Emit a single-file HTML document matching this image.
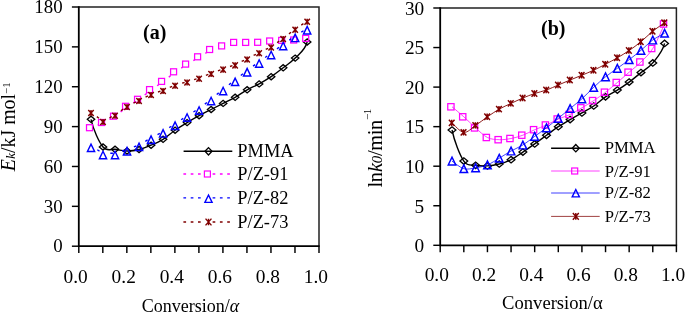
<!DOCTYPE html>
<html><head><meta charset="utf-8"><title>Figure</title>
<style>
html,body{margin:0;padding:0;background:#fff;}
svg{display:block;font-family:"Liberation Serif",serif;fill:#000;}
.t{font-size:18px;}
.b{font-size:20px;font-weight:bold;}
</style></head><body>
<svg width="685" height="314" viewBox="0 0 685 314">
<rect width="685" height="314" fill="#fff" stroke="none"/>
<g>
<path d="M78.8 7H319V246.2" fill="none" stroke="#222" stroke-width="1.5"/>
<path d="M78.8 6.3V246.2H319.7" fill="none" stroke="#000" stroke-width="1.8"/>
<path d="M71.9 246.2H78.8" stroke="#000" stroke-width="1.45"/>
<text x="62.6" y="252.4" text-anchor="end" style="font-size:18.9px">0</text>
<path d="M71.9 206.33H78.8" stroke="#000" stroke-width="1.45"/>
<text x="62.6" y="212.53" text-anchor="end" style="font-size:18.9px">30</text>
<path d="M71.9 166.47H78.8" stroke="#000" stroke-width="1.45"/>
<text x="62.6" y="172.67" text-anchor="end" style="font-size:18.9px">60</text>
<path d="M71.9 126.6H78.8" stroke="#000" stroke-width="1.45"/>
<text x="62.6" y="132.8" text-anchor="end" style="font-size:18.9px">90</text>
<path d="M71.9 86.73H78.8" stroke="#000" stroke-width="1.45"/>
<text x="62.6" y="92.93" text-anchor="end" style="font-size:18.9px">120</text>
<path d="M71.9 46.87H78.8" stroke="#000" stroke-width="1.45"/>
<text x="62.6" y="53.07" text-anchor="end" style="font-size:18.9px">150</text>
<path d="M71.9 7H78.8" stroke="#000" stroke-width="1.45"/>
<text x="62.6" y="13.2" text-anchor="end" style="font-size:18.9px">180</text>
<path d="M78.8 246.2V253.1" stroke="#000" stroke-width="1.45"/>
<text x="75.7" y="282.6" text-anchor="middle" style="font-size:19.4px">0.0</text>
<path d="M102.82 246.2V253.1" stroke="#000" stroke-width="1.45"/>
<path d="M126.84 246.2V253.1" stroke="#000" stroke-width="1.45"/>
<text x="123.74" y="282.6" text-anchor="middle" style="font-size:19.4px">0.2</text>
<path d="M150.86 246.2V253.1" stroke="#000" stroke-width="1.45"/>
<path d="M174.88 246.2V253.1" stroke="#000" stroke-width="1.45"/>
<text x="171.78" y="282.6" text-anchor="middle" style="font-size:19.4px">0.4</text>
<path d="M198.9 246.2V253.1" stroke="#000" stroke-width="1.45"/>
<path d="M222.92 246.2V253.1" stroke="#000" stroke-width="1.45"/>
<text x="219.82" y="282.6" text-anchor="middle" style="font-size:19.4px">0.6</text>
<path d="M246.94 246.2V253.1" stroke="#000" stroke-width="1.45"/>
<path d="M270.96 246.2V253.1" stroke="#000" stroke-width="1.45"/>
<text x="267.86" y="282.6" text-anchor="middle" style="font-size:19.4px">0.8</text>
<path d="M294.98 246.2V253.1" stroke="#000" stroke-width="1.45"/>
<path d="M319 246.2V253.1" stroke="#000" stroke-width="1.45"/>
<text x="315.9" y="282.6" text-anchor="middle" style="font-size:19.4px">1.0</text>
<path d="M91.01 119.3C93.34 129.75 99.02 142 103.02 147C107.02 152 111.03 148.63 115.03 149.3C119.03 149.97 123.04 150.97 127.04 151C131.04 151.03 135.05 150.47 139.05 149.5C143.05 148.53 147.06 146.9 151.06 145.2C155.06 143.5 159.07 141.8 163.07 139.3C167.07 136.8 171.08 132.98 175.08 130.2C179.08 127.42 183.09 125.02 187.09 122.6C191.09 120.18 195.1 117.88 199.1 115.7C203.1 113.52 207.11 111.55 211.11 109.5C215.11 107.45 219.12 105.43 223.12 103.4C227.12 101.37 231.13 99.57 235.13 97.3C239.13 95.03 243.14 92.03 247.14 89.8C251.14 87.57 255.15 86.08 259.15 83.9C263.15 81.72 267.16 79.38 271.16 76.7C275.16 74.02 279.17 70.9 283.17 67.8C287.17 64.7 291.18 62.4 295.18 58.1C299.18 53.8 304.86 50.52 307.19 42" fill="none" stroke="#000" stroke-width="1.4"/>
<path d="M87.31 119.3L91.01 116.2L94.71 119.3L91.01 122.4Z" fill="none" stroke="#000" stroke-width="1.3"/>
<path d="M99.32 147L103.02 143.9L106.72 147L103.02 150.1Z" fill="none" stroke="#000" stroke-width="1.3"/>
<path d="M111.33 149.3L115.03 146.2L118.73 149.3L115.03 152.4Z" fill="none" stroke="#000" stroke-width="1.3"/>
<path d="M123.34 151L127.04 147.9L130.74 151L127.04 154.1Z" fill="none" stroke="#000" stroke-width="1.3"/>
<path d="M135.35 149.5L139.05 146.4L142.75 149.5L139.05 152.6Z" fill="none" stroke="#000" stroke-width="1.3"/>
<path d="M147.36 145.2L151.06 142.1L154.76 145.2L151.06 148.3Z" fill="none" stroke="#000" stroke-width="1.3"/>
<path d="M159.37 139.3L163.07 136.2L166.77 139.3L163.07 142.4Z" fill="none" stroke="#000" stroke-width="1.3"/>
<path d="M171.38 130.2L175.08 127.1L178.78 130.2L175.08 133.3Z" fill="none" stroke="#000" stroke-width="1.3"/>
<path d="M183.39 122.6L187.09 119.5L190.79 122.6L187.09 125.7Z" fill="none" stroke="#000" stroke-width="1.3"/>
<path d="M195.4 115.7L199.1 112.6L202.8 115.7L199.1 118.8Z" fill="none" stroke="#000" stroke-width="1.3"/>
<path d="M207.41 109.5L211.11 106.4L214.81 109.5L211.11 112.6Z" fill="none" stroke="#000" stroke-width="1.3"/>
<path d="M219.42 103.4L223.12 100.3L226.82 103.4L223.12 106.5Z" fill="none" stroke="#000" stroke-width="1.3"/>
<path d="M231.43 97.3L235.13 94.2L238.83 97.3L235.13 100.4Z" fill="none" stroke="#000" stroke-width="1.3"/>
<path d="M243.44 89.8L247.14 86.7L250.84 89.8L247.14 92.9Z" fill="none" stroke="#000" stroke-width="1.3"/>
<path d="M255.45 83.9L259.15 80.8L262.85 83.9L259.15 87Z" fill="none" stroke="#000" stroke-width="1.3"/>
<path d="M267.46 76.7L271.16 73.6L274.86 76.7L271.16 79.8Z" fill="none" stroke="#000" stroke-width="1.3"/>
<path d="M279.47 67.8L283.17 64.7L286.87 67.8L283.17 70.9Z" fill="none" stroke="#000" stroke-width="1.3"/>
<path d="M291.48 58.1L295.18 55L298.88 58.1L295.18 61.2Z" fill="none" stroke="#000" stroke-width="1.3"/>
<path d="M303.49 42L307.19 38.9L310.89 42L307.19 45.1Z" fill="none" stroke="#000" stroke-width="1.3"/>
<path d="M97.71 125.1L98.25 124.87M109.48 119.41L110.43 118.92M120.66 111.86L122.67 110.2M133.35 102.92L134.56 102.22M144.73 95.01L146.75 93.38M157.09 85.78L158.78 84.63M168.77 77.14L170.8 75.52M181.23 68.16L182.71 67.21M193.33 60.61L194.66 59.8M205.34 53.31L206.67 52.5" fill="none" stroke="#ff00ff" stroke-width="1.4"/>
<rect x="86.51" y="124.7" width="6" height="6" fill="none" stroke="#ff00ff" stroke-width="1.25"/>
<rect x="98.52" y="119.5" width="6" height="6" fill="none" stroke="#ff00ff" stroke-width="1.25"/>
<rect x="110.53" y="113.2" width="6" height="6" fill="none" stroke="#ff00ff" stroke-width="1.25"/>
<rect x="122.54" y="103.3" width="6" height="6" fill="none" stroke="#ff00ff" stroke-width="1.25"/>
<rect x="134.55" y="96.3" width="6" height="6" fill="none" stroke="#ff00ff" stroke-width="1.25"/>
<rect x="146.56" y="86.6" width="6" height="6" fill="none" stroke="#ff00ff" stroke-width="1.25"/>
<rect x="158.57" y="78.4" width="6" height="6" fill="none" stroke="#ff00ff" stroke-width="1.25"/>
<rect x="170.58" y="68.8" width="6" height="6" fill="none" stroke="#ff00ff" stroke-width="1.25"/>
<rect x="182.59" y="61.1" width="6" height="6" fill="none" stroke="#ff00ff" stroke-width="1.25"/>
<rect x="194.6" y="53.8" width="6" height="6" fill="none" stroke="#ff00ff" stroke-width="1.25"/>
<rect x="206.61" y="46.5" width="6" height="6" fill="none" stroke="#ff00ff" stroke-width="1.25"/>
<rect x="218.62" y="42.9" width="6" height="6" fill="none" stroke="#ff00ff" stroke-width="1.25"/>
<rect x="230.63" y="39.4" width="6" height="6" fill="none" stroke="#ff00ff" stroke-width="1.25"/>
<rect x="242.64" y="39.4" width="6" height="6" fill="none" stroke="#ff00ff" stroke-width="1.25"/>
<rect x="254.65" y="39.3" width="6" height="6" fill="none" stroke="#ff00ff" stroke-width="1.25"/>
<rect x="266.66" y="38" width="6" height="6" fill="none" stroke="#ff00ff" stroke-width="1.25"/>
<rect x="278.67" y="37.4" width="6" height="6" fill="none" stroke="#ff00ff" stroke-width="1.25"/>
<rect x="290.68" y="37" width="6" height="6" fill="none" stroke="#ff00ff" stroke-width="1.25"/>
<rect x="302.69" y="35.4" width="6" height="6" fill="none" stroke="#ff00ff" stroke-width="1.25"/>
<path d="M97.27 149.75L99.5 151.09M110.32 153.2L112.92 153.2M121.99 151L124.47 150.21M133.89 146.89L136.34 145.99M145.33 141.29L147.57 139.96M157.52 134.51L159.83 133.3M169.22 127.66L171.4 126.26M181.11 119.78L183.26 118.32M193.4 112.02L195.64 110.71M204.83 104.17L206.86 102.56M216.72 94.53L218.72 92.87M228.92 84.76L230.98 83.18M240.83 75.44L242.86 73.82M253.05 66.12L255.16 64.59M265.11 57.48L267.23 55.98M277 48.82L279.08 47.26M289.22 40.12L291.38 38.66M301.33 32.16L303.51 30.76" fill="none" stroke="#0000ff" stroke-width="1.4"/>
<path d="M87.41 151.5L91.01 144.1L94.61 151.5Z" fill="none" stroke="#0000ff" stroke-width="1.45"/>
<path d="M99.42 158.7L103.02 151.3L106.62 158.7Z" fill="none" stroke="#0000ff" stroke-width="1.45"/>
<path d="M111.43 158.7L115.03 151.3L118.63 158.7Z" fill="none" stroke="#0000ff" stroke-width="1.45"/>
<path d="M123.44 154.9L127.04 147.5L130.64 154.9Z" fill="none" stroke="#0000ff" stroke-width="1.45"/>
<path d="M135.45 150.5L139.05 143.1L142.65 150.5Z" fill="none" stroke="#0000ff" stroke-width="1.45"/>
<path d="M147.46 143.4L151.06 136L154.66 143.4Z" fill="none" stroke="#0000ff" stroke-width="1.45"/>
<path d="M159.47 137.1L163.07 129.7L166.67 137.1Z" fill="none" stroke="#0000ff" stroke-width="1.45"/>
<path d="M171.48 129.4L175.08 122L178.68 129.4Z" fill="none" stroke="#0000ff" stroke-width="1.45"/>
<path d="M183.49 121.2L187.09 113.8L190.69 121.2Z" fill="none" stroke="#0000ff" stroke-width="1.45"/>
<path d="M195.5 114.2L199.1 106.8L202.7 114.2Z" fill="none" stroke="#0000ff" stroke-width="1.45"/>
<path d="M207.51 104.7L211.11 97.3L214.71 104.7Z" fill="none" stroke="#0000ff" stroke-width="1.45"/>
<path d="M219.52 94.7L223.12 87.3L226.72 94.7Z" fill="none" stroke="#0000ff" stroke-width="1.45"/>
<path d="M231.53 85.5L235.13 78.1L238.73 85.5Z" fill="none" stroke="#0000ff" stroke-width="1.45"/>
<path d="M243.54 75.9L247.14 68.5L250.74 75.9Z" fill="none" stroke="#0000ff" stroke-width="1.45"/>
<path d="M255.55 67.2L259.15 59.8L262.75 67.2Z" fill="none" stroke="#0000ff" stroke-width="1.45"/>
<path d="M267.56 58.7L271.16 51.3L274.76 58.7Z" fill="none" stroke="#0000ff" stroke-width="1.45"/>
<path d="M279.57 49.7L283.17 42.3L286.77 49.7Z" fill="none" stroke="#0000ff" stroke-width="1.45"/>
<path d="M291.58 41.6L295.18 34.2L298.78 41.6Z" fill="none" stroke="#0000ff" stroke-width="1.45"/>
<path d="M303.59 33.9L307.19 26.5L310.79 33.9Z" fill="none" stroke="#0000ff" stroke-width="1.45"/>
<path d="M96.85 116.68L98.93 118.24M109.48 117.91L111.79 116.7M120.94 110.72L123.05 109.19M133.57 103.04L135.9 101.88M145.58 97.04L147.91 95.88M157.99 91.99L160.45 91.17M169.77 87.4L172.15 86.37M182.12 83.17L184.63 82.48M194.05 79.6L196.53 78.81M205.9 75.34L208.32 74.39M217.96 70.79L220.41 69.89M230.01 66.49L232.47 65.63M241.68 61.48L244.02 60.33M253.63 55.45L255.94 54.26M265.72 49.43L268.06 48.29M277.12 42.58L279.24 41.08M288.97 33.86L291.03 32.28M301.26 25.05L303.42 23.61" fill="none" stroke="#800000" stroke-width="1.4"/>
<path d="M88.31 109.95L93.71 116.05M88.31 116.05L93.71 109.95M91.01 109.95L91.01 116.05" fill="none" stroke="#800000" stroke-width="1.45"/>
<path d="M100.32 118.95L105.72 125.05M100.32 125.05L105.72 118.95M103.02 118.95L103.02 125.05" fill="none" stroke="#800000" stroke-width="1.45"/>
<path d="M112.33 112.65L117.73 118.75M112.33 118.75L117.73 112.65M115.03 112.65L115.03 118.75" fill="none" stroke="#800000" stroke-width="1.45"/>
<path d="M124.34 103.95L129.74 110.05M124.34 110.05L129.74 103.95M127.04 103.95L127.04 110.05" fill="none" stroke="#800000" stroke-width="1.45"/>
<path d="M136.35 97.95L141.75 104.05M136.35 104.05L141.75 97.95M139.05 97.95L139.05 104.05" fill="none" stroke="#800000" stroke-width="1.45"/>
<path d="M148.36 91.95L153.76 98.05M148.36 98.05L153.76 91.95M151.06 91.95L151.06 98.05" fill="none" stroke="#800000" stroke-width="1.45"/>
<path d="M160.37 87.95L165.77 94.05M160.37 94.05L165.77 87.95M163.07 87.95L163.07 94.05" fill="none" stroke="#800000" stroke-width="1.45"/>
<path d="M172.38 82.75L177.78 88.85M172.38 88.85L177.78 82.75M175.08 82.75L175.08 88.85" fill="none" stroke="#800000" stroke-width="1.45"/>
<path d="M184.39 79.45L189.79 85.55M184.39 85.55L189.79 79.45M187.09 79.45L187.09 85.55" fill="none" stroke="#800000" stroke-width="1.45"/>
<path d="M196.4 75.65L201.8 81.75M196.4 81.75L201.8 75.65M199.1 75.65L199.1 81.75" fill="none" stroke="#800000" stroke-width="1.45"/>
<path d="M208.41 70.95L213.81 77.05M208.41 77.05L213.81 70.95M211.11 70.95L211.11 77.05" fill="none" stroke="#800000" stroke-width="1.45"/>
<path d="M220.42 66.55L225.82 72.65M220.42 72.65L225.82 66.55M223.12 66.55L223.12 72.65" fill="none" stroke="#800000" stroke-width="1.45"/>
<path d="M232.43 62.35L237.83 68.45M232.43 68.45L237.83 62.35M235.13 62.35L235.13 68.45" fill="none" stroke="#800000" stroke-width="1.45"/>
<path d="M244.44 56.45L249.84 62.55M244.44 62.55L249.84 56.45M247.14 56.45L247.14 62.55" fill="none" stroke="#800000" stroke-width="1.45"/>
<path d="M256.45 50.25L261.85 56.35M256.45 56.35L261.85 50.25M259.15 50.25L259.15 56.35" fill="none" stroke="#800000" stroke-width="1.45"/>
<path d="M268.46 44.45L273.86 50.55M268.46 50.55L273.86 44.45M271.16 44.45L271.16 50.55" fill="none" stroke="#800000" stroke-width="1.45"/>
<path d="M280.47 35.95L285.87 42.05M280.47 42.05L285.87 35.95M283.17 35.95L283.17 42.05" fill="none" stroke="#800000" stroke-width="1.45"/>
<path d="M292.48 26.75L297.88 32.85M292.48 32.85L297.88 26.75M295.18 26.75L295.18 32.85" fill="none" stroke="#800000" stroke-width="1.45"/>
<path d="M304.49 18.75L309.89 24.85M304.49 24.85L309.89 18.75M307.19 18.75L307.19 24.85" fill="none" stroke="#800000" stroke-width="1.45"/>
<path d="M183.6 151.3H232.3" stroke="#000" stroke-width="1.4"/>
<path d="M205 151.3L208.5 147.6L212 151.3L208.5 155Z" fill="none" stroke="#000" stroke-width="1.3"/>
<text x="237.3" y="156.7" style="font-size:18.4px">PMMA</text>
<path d="M183.4 174H186.1M190.7 174H193.4M198 174H200.7M212.6 174H215.3M219.9 174H222.6M227.2 174H229.9" stroke="#ff00ff" stroke-width="1.4"/>
<rect x="204.4" y="171" width="6" height="6" fill="none" stroke="#ff00ff" stroke-width="1.2"/>
<text x="237.3" y="180.4" style="font-size:18.4px">P/Z-91</text>
<path d="M183.4 197.9H186.1M190.7 197.9H193.4M198 197.9H200.7M212.6 197.9H215.3M219.9 197.9H222.6M227.2 197.9H229.9" stroke="#0000ff" stroke-width="1.4"/>
<path d="M204.9 202.4L208.5 195L212.1 202.4Z" fill="none" stroke="#0000ff" stroke-width="1.4"/>
<text x="237.3" y="204" style="font-size:18.4px">P/Z-82</text>
<path d="M183.4 222H186.1M190.7 222H193.4M198 222H200.7M212.6 222H215.3M219.9 222H222.6M227.2 222H229.9" stroke="#800000" stroke-width="1.4"/>
<path d="M205.53 218.65L211.47 225.35M205.53 225.35L211.47 218.65M208.5 218.65L208.5 225.35" fill="none" stroke="#800000" stroke-width="1.4"/>
<text x="237.3" y="228.3" style="font-size:18.4px">P/Z-73</text>
<text x="143.0" y="39.4" class="b">(a)</text>
<text transform="translate(15.1 171.2) rotate(-90)" style="font-size:19.9px"><tspan font-style="italic">E</tspan><tspan font-style="italic" font-size="13.5" dy="0.3">k</tspan><tspan dy="-0.3">/kJ mol</tspan><tspan font-size="10.8" dy="-5.6">−1</tspan></text>
<text x="141.8" y="312.3" class="t">Conversion/<tspan font-style="italic">α</tspan></text>
</g>
<g>
<path d="M440.2 8H676.4V245.3" fill="none" stroke="#222" stroke-width="1.5"/>
<path d="M440.2 7.3V245.3H677.1" fill="none" stroke="#000" stroke-width="1.8"/>
<path d="M433.3 245.3H440.2" stroke="#000" stroke-width="1.45"/>
<text x="424.2" y="252.1" text-anchor="end" style="font-size:19.3px">0</text>
<path d="M433.3 205.75H440.2" stroke="#000" stroke-width="1.45"/>
<text x="424.2" y="212.55" text-anchor="end" style="font-size:19.3px">5</text>
<path d="M433.3 166.2H440.2" stroke="#000" stroke-width="1.45"/>
<text x="424.2" y="173" text-anchor="end" style="font-size:19.3px">10</text>
<path d="M433.3 126.65H440.2" stroke="#000" stroke-width="1.45"/>
<text x="424.2" y="133.45" text-anchor="end" style="font-size:19.3px">15</text>
<path d="M433.3 87.1H440.2" stroke="#000" stroke-width="1.45"/>
<text x="424.2" y="93.9" text-anchor="end" style="font-size:19.3px">20</text>
<path d="M433.3 47.55H440.2" stroke="#000" stroke-width="1.45"/>
<text x="424.2" y="54.35" text-anchor="end" style="font-size:19.3px">25</text>
<path d="M433.3 8H440.2" stroke="#000" stroke-width="1.45"/>
<text x="424.2" y="14.8" text-anchor="end" style="font-size:19.3px">30</text>
<path d="M440.2 245.3V252.2" stroke="#000" stroke-width="1.45"/>
<text x="436.8" y="281.2" text-anchor="middle" style="font-size:19.4px">0.0</text>
<path d="M463.82 245.3V252.2" stroke="#000" stroke-width="1.45"/>
<path d="M487.44 245.3V252.2" stroke="#000" stroke-width="1.45"/>
<text x="484.04" y="281.2" text-anchor="middle" style="font-size:19.4px">0.2</text>
<path d="M511.06 245.3V252.2" stroke="#000" stroke-width="1.45"/>
<path d="M534.68 245.3V252.2" stroke="#000" stroke-width="1.45"/>
<text x="531.28" y="281.2" text-anchor="middle" style="font-size:19.4px">0.4</text>
<path d="M558.3 245.3V252.2" stroke="#000" stroke-width="1.45"/>
<path d="M581.92 245.3V252.2" stroke="#000" stroke-width="1.45"/>
<text x="578.52" y="281.2" text-anchor="middle" style="font-size:19.4px">0.6</text>
<path d="M605.54 245.3V252.2" stroke="#000" stroke-width="1.45"/>
<path d="M629.16 245.3V252.2" stroke="#000" stroke-width="1.45"/>
<text x="625.76" y="281.2" text-anchor="middle" style="font-size:19.4px">0.8</text>
<path d="M652.78 245.3V252.2" stroke="#000" stroke-width="1.45"/>
<path d="M676.4 245.3V252.2" stroke="#000" stroke-width="1.45"/>
<text x="673" y="281.2" text-anchor="middle" style="font-size:19.4px">1.0</text>
<path d="M452.01 130C454.31 141.02 459.88 155.22 463.82 161.1C467.76 166.98 471.69 164.5 475.63 165.3C479.57 166.1 483.5 166.12 487.44 165.9C491.38 165.68 495.31 165.03 499.25 164C503.19 162.97 507.12 161.68 511.06 159.7C515 157.72 518.93 154.73 522.87 152.1C526.81 149.47 530.74 146.7 534.68 143.9C538.62 141.1 542.55 138.17 546.49 135.3C550.43 132.43 554.36 129.32 558.3 126.7C562.24 124.08 566.17 121.9 570.11 119.6C574.05 117.3 577.98 115.17 581.92 112.9C585.86 110.63 589.79 108.68 593.73 106C597.67 103.32 601.6 99.45 605.54 96.8C609.48 94.15 613.41 92.55 617.35 90.1C621.29 87.65 625.22 85.02 629.16 82.1C633.1 79.18 637.03 75.8 640.97 72.6C644.91 69.4 648.84 67.77 652.78 62.9C656.72 58.03 662.29 52.48 664.59 43.4" fill="none" stroke="#000" stroke-width="1.4"/>
<path d="M448.12 130L452.01 126.75L455.89 130L452.01 133.25Z" fill="none" stroke="#000" stroke-width="1.3"/>
<path d="M459.94 161.1L463.82 157.84L467.7 161.1L463.82 164.35Z" fill="none" stroke="#000" stroke-width="1.3"/>
<path d="M471.75 165.3L475.63 162.05L479.51 165.3L475.63 168.56Z" fill="none" stroke="#000" stroke-width="1.3"/>
<path d="M483.56 165.9L487.44 162.65L491.32 165.9L487.44 169.16Z" fill="none" stroke="#000" stroke-width="1.3"/>
<path d="M495.37 164L499.25 160.75L503.13 164L499.25 167.25Z" fill="none" stroke="#000" stroke-width="1.3"/>
<path d="M507.17 159.7L511.06 156.44L514.94 159.7L511.06 162.95Z" fill="none" stroke="#000" stroke-width="1.3"/>
<path d="M518.99 152.1L522.87 148.84L526.75 152.1L522.87 155.35Z" fill="none" stroke="#000" stroke-width="1.3"/>
<path d="M530.79 143.9L534.68 140.65L538.56 143.9L534.68 147.16Z" fill="none" stroke="#000" stroke-width="1.3"/>
<path d="M542.61 135.3L546.49 132.05L550.38 135.3L546.49 138.56Z" fill="none" stroke="#000" stroke-width="1.3"/>
<path d="M554.41 126.7L558.3 123.45L562.18 126.7L558.3 129.96Z" fill="none" stroke="#000" stroke-width="1.3"/>
<path d="M566.23 119.6L570.11 116.34L574 119.6L570.11 122.85Z" fill="none" stroke="#000" stroke-width="1.3"/>
<path d="M578.03 112.9L581.92 109.65L585.8 112.9L581.92 116.16Z" fill="none" stroke="#000" stroke-width="1.3"/>
<path d="M589.85 106L593.73 102.75L597.62 106L593.73 109.25Z" fill="none" stroke="#000" stroke-width="1.3"/>
<path d="M601.65 96.8L605.54 93.55L609.42 96.8L605.54 100.05Z" fill="none" stroke="#000" stroke-width="1.3"/>
<path d="M613.46 90.1L617.35 86.84L621.23 90.1L617.35 93.35Z" fill="none" stroke="#000" stroke-width="1.3"/>
<path d="M625.27 82.1L629.16 78.84L633.04 82.1L629.16 85.35Z" fill="none" stroke="#000" stroke-width="1.3"/>
<path d="M637.09 72.6L640.97 69.34L644.86 72.6L640.97 75.85Z" fill="none" stroke="#000" stroke-width="1.3"/>
<path d="M648.89 62.9L652.78 59.64L656.66 62.9L652.78 66.16Z" fill="none" stroke="#000" stroke-width="1.3"/>
<path d="M660.7 43.4L664.59 40.14L668.47 43.4L664.59 46.66Z" fill="none" stroke="#000" stroke-width="1.3"/>
<path d="M452.01 106.8C453.98 108.47 459.88 113.28 463.82 116.8C467.76 120.32 471.69 124.45 475.63 127.9C479.57 131.35 483.5 135.53 487.44 137.5C491.38 139.47 495.31 139.53 499.25 139.7C503.19 139.87 507.12 139.25 511.06 138.5C515 137.75 518.93 136.67 522.87 135.2C526.81 133.73 530.74 131.4 534.68 129.7C538.62 128 542.55 126.78 546.49 125C550.43 123.22 554.36 120.75 558.3 119C562.24 117.25 566.17 116.37 570.11 114.5C574.05 112.63 577.98 110.12 581.92 107.8C585.86 105.48 589.79 103.2 593.73 100.6C597.67 98 601.6 95.22 605.54 92.2C609.48 89.18 613.41 85.83 617.35 82.5C621.29 79.17 625.22 75.62 629.16 72.2C633.1 68.78 637.03 65.95 640.97 62C644.91 58.05 648.84 54.83 652.78 48.5C656.72 42.17 662.62 28.08 664.59 24" fill="none" stroke="#ff00ff" stroke-width="0.75"/>
<rect x="447.76" y="103.65" width="6.3" height="6.3" fill="none" stroke="#ff00ff" stroke-width="1.25"/>
<rect x="459.57" y="113.65" width="6.3" height="6.3" fill="none" stroke="#ff00ff" stroke-width="1.25"/>
<rect x="471.38" y="124.75" width="6.3" height="6.3" fill="none" stroke="#ff00ff" stroke-width="1.25"/>
<rect x="483.19" y="134.35" width="6.3" height="6.3" fill="none" stroke="#ff00ff" stroke-width="1.25"/>
<rect x="495" y="136.55" width="6.3" height="6.3" fill="none" stroke="#ff00ff" stroke-width="1.25"/>
<rect x="506.81" y="135.35" width="6.3" height="6.3" fill="none" stroke="#ff00ff" stroke-width="1.25"/>
<rect x="518.62" y="132.05" width="6.3" height="6.3" fill="none" stroke="#ff00ff" stroke-width="1.25"/>
<rect x="530.43" y="126.55" width="6.3" height="6.3" fill="none" stroke="#ff00ff" stroke-width="1.25"/>
<rect x="542.24" y="121.85" width="6.3" height="6.3" fill="none" stroke="#ff00ff" stroke-width="1.25"/>
<rect x="554.05" y="115.85" width="6.3" height="6.3" fill="none" stroke="#ff00ff" stroke-width="1.25"/>
<rect x="565.86" y="111.35" width="6.3" height="6.3" fill="none" stroke="#ff00ff" stroke-width="1.25"/>
<rect x="577.67" y="104.65" width="6.3" height="6.3" fill="none" stroke="#ff00ff" stroke-width="1.25"/>
<rect x="589.48" y="97.45" width="6.3" height="6.3" fill="none" stroke="#ff00ff" stroke-width="1.25"/>
<rect x="601.29" y="89.05" width="6.3" height="6.3" fill="none" stroke="#ff00ff" stroke-width="1.25"/>
<rect x="613.1" y="79.35" width="6.3" height="6.3" fill="none" stroke="#ff00ff" stroke-width="1.25"/>
<rect x="624.91" y="69.05" width="6.3" height="6.3" fill="none" stroke="#ff00ff" stroke-width="1.25"/>
<rect x="636.72" y="58.85" width="6.3" height="6.3" fill="none" stroke="#ff00ff" stroke-width="1.25"/>
<rect x="648.53" y="45.35" width="6.3" height="6.3" fill="none" stroke="#ff00ff" stroke-width="1.25"/>
<rect x="660.34" y="20.85" width="6.3" height="6.3" fill="none" stroke="#ff00ff" stroke-width="1.25"/>
<path d="M452.01 161.1C453.98 162.37 459.88 167.58 463.82 168.7C467.76 169.82 471.69 168.43 475.63 167.8C479.57 167.17 483.5 166.5 487.44 164.9C491.38 163.3 495.31 160.52 499.25 158.2C503.19 155.88 507.12 153.2 511.06 151C515 148.8 518.93 147.43 522.87 145C526.81 142.57 530.74 139.27 534.68 136.4C538.62 133.53 542.55 130.82 546.49 127.8C550.43 124.78 554.36 121.52 558.3 118.3C562.24 115.08 566.17 111.75 570.11 108.5C574.05 105.25 577.98 102.33 581.92 98.8C585.86 95.27 589.79 90.97 593.73 87.3C597.67 83.63 601.6 79.97 605.54 76.8C609.48 73.63 613.41 71.15 617.35 68.3C621.29 65.45 625.22 62.7 629.16 59.7C633.1 56.7 637.03 53.58 640.97 50.3C644.91 47.02 648.84 42.85 652.78 40C656.72 37.15 662.62 34.33 664.59 33.2" fill="none" stroke="#0000ff" stroke-width="0.75"/>
<path d="M448.23 164.98L452.01 157.22L455.79 164.98Z" fill="none" stroke="#0000ff" stroke-width="1.45"/>
<path d="M460.04 172.58L463.82 164.81L467.6 172.58Z" fill="none" stroke="#0000ff" stroke-width="1.45"/>
<path d="M471.85 171.69L475.63 163.92L479.41 171.69Z" fill="none" stroke="#0000ff" stroke-width="1.45"/>
<path d="M483.66 168.78L487.44 161.02L491.22 168.78Z" fill="none" stroke="#0000ff" stroke-width="1.45"/>
<path d="M495.47 162.08L499.25 154.31L503.03 162.08Z" fill="none" stroke="#0000ff" stroke-width="1.45"/>
<path d="M507.28 154.88L511.06 147.12L514.84 154.88Z" fill="none" stroke="#0000ff" stroke-width="1.45"/>
<path d="M519.09 148.88L522.87 141.12L526.65 148.88Z" fill="none" stroke="#0000ff" stroke-width="1.45"/>
<path d="M530.9 140.28L534.68 132.52L538.46 140.28Z" fill="none" stroke="#0000ff" stroke-width="1.45"/>
<path d="M542.71 131.69L546.49 123.91L550.27 131.69Z" fill="none" stroke="#0000ff" stroke-width="1.45"/>
<path d="M554.52 122.19L558.3 114.41L562.08 122.19Z" fill="none" stroke="#0000ff" stroke-width="1.45"/>
<path d="M566.33 112.39L570.11 104.61L573.89 112.39Z" fill="none" stroke="#0000ff" stroke-width="1.45"/>
<path d="M578.14 102.69L581.92 94.91L585.7 102.69Z" fill="none" stroke="#0000ff" stroke-width="1.45"/>
<path d="M589.95 91.19L593.73 83.41L597.51 91.19Z" fill="none" stroke="#0000ff" stroke-width="1.45"/>
<path d="M601.76 80.69L605.54 72.91L609.32 80.69Z" fill="none" stroke="#0000ff" stroke-width="1.45"/>
<path d="M613.57 72.19L617.35 64.41L621.13 72.19Z" fill="none" stroke="#0000ff" stroke-width="1.45"/>
<path d="M625.38 63.59L629.16 55.82L632.94 63.59Z" fill="none" stroke="#0000ff" stroke-width="1.45"/>
<path d="M637.19 54.18L640.97 46.41L644.75 54.18Z" fill="none" stroke="#0000ff" stroke-width="1.45"/>
<path d="M649 43.88L652.78 36.12L656.56 43.88Z" fill="none" stroke="#0000ff" stroke-width="1.45"/>
<path d="M660.81 37.09L664.59 29.32L668.37 37.09Z" fill="none" stroke="#0000ff" stroke-width="1.45"/>
<path d="M452.01 122.9C453.98 124.48 459.88 131.98 463.82 132.4C467.76 132.82 471.69 128 475.63 125.4C479.57 122.8 483.5 119.52 487.44 116.8C491.38 114.08 495.31 111.33 499.25 109.1C503.19 106.87 507.12 105.25 511.06 103.4C515 101.55 518.93 99.65 522.87 98C526.81 96.35 530.74 94.83 534.68 93.5C538.62 92.17 542.55 91.42 546.49 90C550.43 88.58 554.36 86.67 558.3 85C562.24 83.33 566.17 81.63 570.11 80C574.05 78.37 577.98 76.83 581.92 75.2C585.86 73.57 589.79 72.03 593.73 70.2C597.67 68.37 601.6 66.27 605.54 64.2C609.48 62.13 613.41 60.08 617.35 57.8C621.29 55.52 625.22 53.18 629.16 50.5C633.1 47.82 637.03 44.92 640.97 41.7C644.91 38.48 648.84 34.35 652.78 31.2C656.72 28.05 662.62 24.2 664.59 22.8" fill="none" stroke="#800000" stroke-width="0.9"/>
<path d="M448.88 119.7L454.54 126.1M448.88 126.1L454.54 119.7M451.71 119.7L451.71 126.1" fill="none" stroke="#800000" stroke-width="1.45"/>
<path d="M460.69 129.2L466.35 135.6M460.69 135.6L466.35 129.2M463.52 129.2L463.52 135.6" fill="none" stroke="#800000" stroke-width="1.45"/>
<path d="M472.5 122.2L478.16 128.6M472.5 128.6L478.16 122.2M475.33 122.2L475.33 128.6" fill="none" stroke="#800000" stroke-width="1.45"/>
<path d="M484.31 113.6L489.97 120M484.31 120L489.97 113.6M487.14 113.6L487.14 120" fill="none" stroke="#800000" stroke-width="1.45"/>
<path d="M496.12 105.9L501.78 112.3M496.12 112.3L501.78 105.9M498.95 105.9L498.95 112.3" fill="none" stroke="#800000" stroke-width="1.45"/>
<path d="M507.92 100.2L513.59 106.6M507.92 106.6L513.59 100.2M510.76 100.2L510.76 106.6" fill="none" stroke="#800000" stroke-width="1.45"/>
<path d="M519.74 94.8L525.41 101.2M519.74 101.2L525.41 94.8M522.57 94.8L522.57 101.2" fill="none" stroke="#800000" stroke-width="1.45"/>
<path d="M531.54 90.3L537.22 96.7M531.54 96.7L537.22 90.3M534.38 90.3L534.38 96.7" fill="none" stroke="#800000" stroke-width="1.45"/>
<path d="M543.36 86.8L549.03 93.2M543.36 93.2L549.03 86.8M546.19 86.8L546.19 93.2" fill="none" stroke="#800000" stroke-width="1.45"/>
<path d="M555.16 81.8L560.84 88.2M555.16 88.2L560.84 81.8M558 81.8L558 88.2" fill="none" stroke="#800000" stroke-width="1.45"/>
<path d="M566.98 76.8L572.65 83.2M566.98 83.2L572.65 76.8M569.81 76.8L569.81 83.2" fill="none" stroke="#800000" stroke-width="1.45"/>
<path d="M578.78 72L584.46 78.4M578.78 78.4L584.46 72M581.62 72L581.62 78.4" fill="none" stroke="#800000" stroke-width="1.45"/>
<path d="M590.6 67L596.27 73.4M590.6 73.4L596.27 67M593.43 67L593.43 73.4" fill="none" stroke="#800000" stroke-width="1.45"/>
<path d="M602.4 61L608.08 67.4M602.4 67.4L608.08 61M605.24 61L605.24 67.4" fill="none" stroke="#800000" stroke-width="1.45"/>
<path d="M614.21 54.6L619.88 61M614.21 61L619.88 54.6M617.05 54.6L617.05 61" fill="none" stroke="#800000" stroke-width="1.45"/>
<path d="M626.02 47.3L631.7 53.7M626.02 53.7L631.7 47.3M628.86 47.3L628.86 53.7" fill="none" stroke="#800000" stroke-width="1.45"/>
<path d="M637.84 38.5L643.51 44.9M637.84 44.9L643.51 38.5M640.67 38.5L640.67 44.9" fill="none" stroke="#800000" stroke-width="1.45"/>
<path d="M649.64 28L655.32 34.4M649.64 34.4L655.32 28M652.48 28L652.48 34.4" fill="none" stroke="#800000" stroke-width="1.45"/>
<path d="M661.45 19.6L667.12 26M661.45 26L667.12 19.6M664.29 19.6L664.29 26" fill="none" stroke="#800000" stroke-width="1.45"/>
<path d="M551.1 148.2H599.7" stroke="#000" stroke-width="1.4"/>
<path d="M572.3 148.2L575.8 144.5L579.3 148.2L575.8 151.9Z" fill="none" stroke="#000" stroke-width="1.3"/>
<text x="604.7" y="153.4" style="font-size:16.65px">PMMA</text>
<path d="M551.1 171H599.7" stroke="#ff00ff" stroke-width="0.75"/>
<rect x="571.7" y="168" width="6" height="6" fill="none" stroke="#ff00ff" stroke-width="1.2"/>
<text x="604.7" y="177" style="font-size:16.65px">P/Z-91</text>
<path d="M551.1 193H599.7" stroke="#0000ff" stroke-width="0.75"/>
<path d="M572.2 196.9L575.8 189.5L579.4 196.9Z" fill="none" stroke="#0000ff" stroke-width="1.4"/>
<text x="604.7" y="198.4" style="font-size:16.65px">P/Z-82</text>
<path d="M551.1 216.4H599.7" stroke="#800000" stroke-width="0.75"/>
<path d="M572.83 213.05L578.77 219.75M572.83 219.75L578.77 213.05M575.8 213.05L575.8 219.75" fill="none" stroke="#800000" stroke-width="1.4"/>
<text x="604.7" y="222" style="font-size:16.65px">P/Z-73</text>
<text x="541.0" y="34.6" class="b">(b)</text>
<text transform="translate(381.6 187.6) rotate(-90)" style="font-size:20.3px;letter-spacing:-0.3px">ln<tspan font-style="italic" dx="0.4">k</tspan><tspan font-style="italic" font-size="15" dy="0.01">0</tspan><tspan dy="-0.01">/min</tspan><tspan font-size="11" dy="-10.9">−1</tspan></text>
<text x="502.1" y="308.5" style="font-size:18.6px">Conversion/α</text>
</g>
</svg>
</body></html>
